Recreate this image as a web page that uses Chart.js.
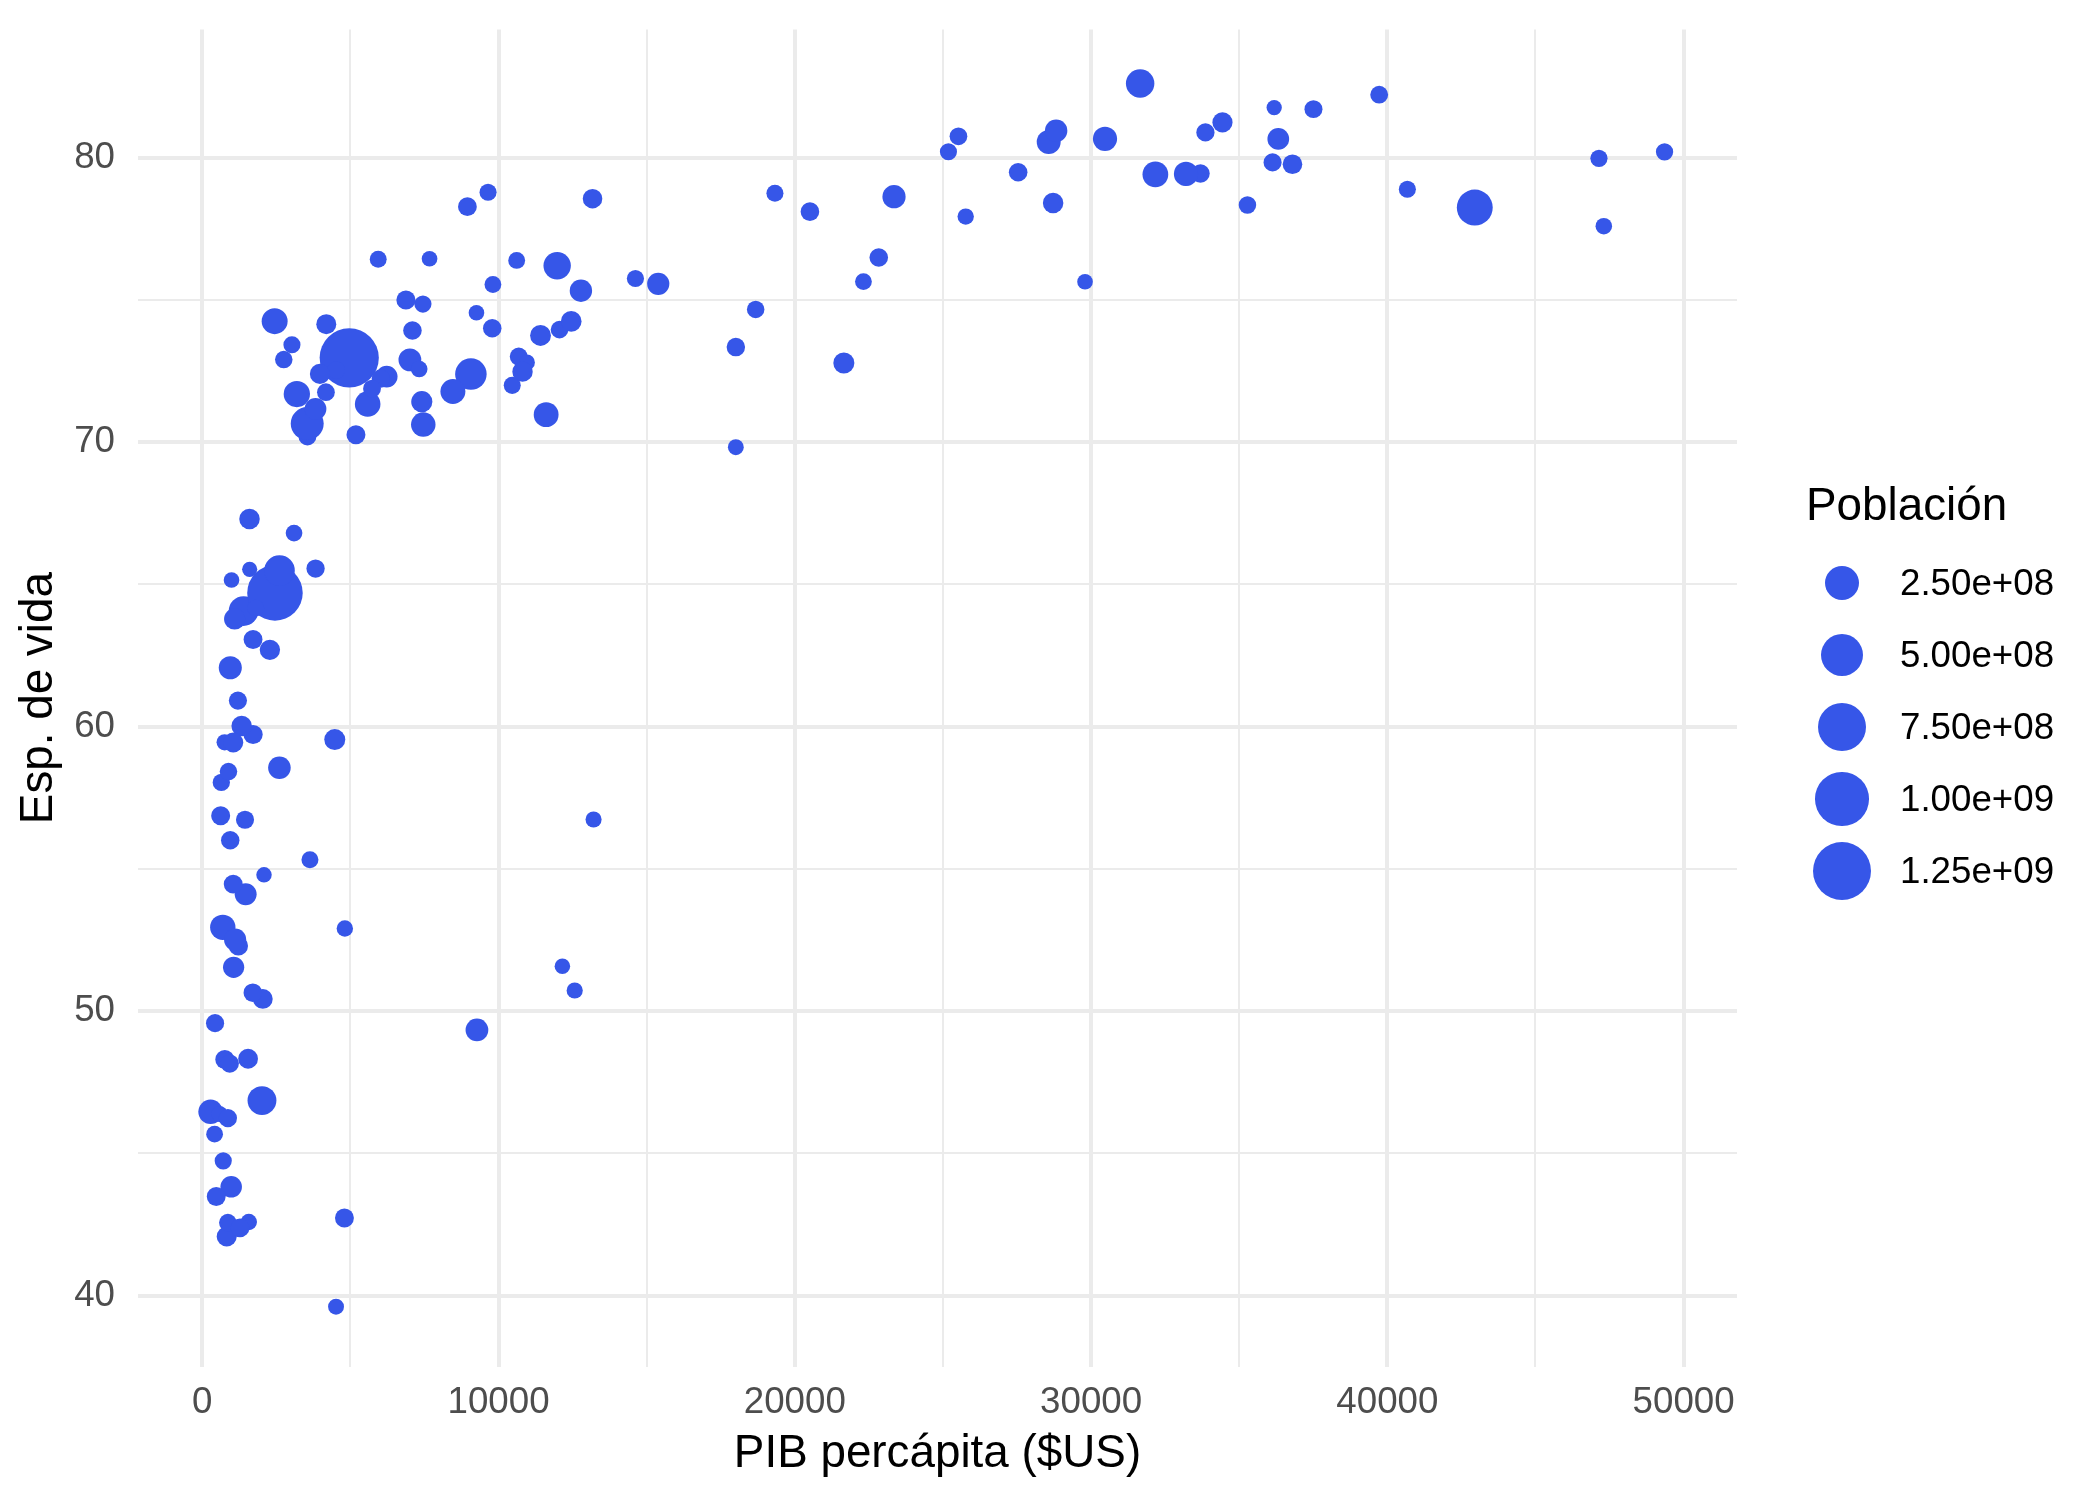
<!DOCTYPE html>
<html><head><meta charset="utf-8">
<script src="https://cdn.jsdelivr.net/npm/chart.js@4"></script>
<style>
html,body{margin:0;padding:0;background:#fff;}
#wrap{position:relative;width:2099px;height:1499px;font-family:"Liberation Sans",Arial,sans-serif;}
canvas{position:absolute;left:0;top:0;}
#leg{position:absolute;left:0;top:0;}
.t{position:absolute;left:1806px;top:477px;font-size:45.8px;line-height:55px;color:#000;white-space:nowrap;}
.dot{position:absolute;border-radius:50%;background:#3656E8;}
.lab{position:absolute;left:1900px;font-size:36.7px;line-height:44px;color:#000;transform:translateY(-50%);white-space:nowrap;}
</style></head>
<body><div id="wrap"><canvas id="c" width="2099" height="1499"></canvas><div id="leg"><div class="t">Población</div></div></div>
<script>
const countries=["Afghanistan","Albania","Algeria","Angola","Argentina","Australia","Austria","Bahrain","Bangladesh","Belgium","Benin","Bolivia","Bosnia and Herzegovina","Botswana","Brazil","Bulgaria","Burkina Faso","Burundi","Cambodia","Cameroon","Canada","Central African Republic","Chad","Chile","China","Colombia","Comoros","Congo, Dem. Rep.","Congo, Rep.","Costa Rica","Cote d'Ivoire","Croatia","Cuba","Czech Republic","Denmark","Djibouti","Dominican Republic","Ecuador","Egypt","El Salvador","Equatorial Guinea","Eritrea","Ethiopia","Finland","France","Gabon","Gambia","Germany","Ghana","Greece","Guatemala","Guinea","Guinea-Bissau","Haiti","Honduras","Hong Kong","Hungary","Iceland","India","Indonesia","Iran","Iraq","Ireland","Israel","Italy","Jamaica","Japan","Jordan","Kenya","Korea, Dem. Rep.","Korea, Rep.","Kuwait","Lebanon","Lesotho","Liberia","Libya","Madagascar","Malawi","Malaysia","Mali","Mauritania","Mauritius","Mexico","Mongolia","Montenegro","Morocco","Mozambique","Myanmar","Namibia","Nepal","Netherlands","New Zealand","Nicaragua","Niger","Nigeria","Norway","Oman","Pakistan","Panama","Paraguay","Peru","Philippines","Poland","Portugal","Puerto Rico","Reunion","Romania","Rwanda","Sao Tome and Principe","Saudi Arabia","Senegal","Serbia","Sierra Leone","Singapore","Slovak Republic","Slovenia","Somalia","South Africa","Spain","Sri Lanka","Sudan","Swaziland","Sweden","Switzerland","Syria","Taiwan","Tanzania","Thailand","Togo","Trinidad and Tobago","Tunisia","Turkey","Uganda","United Kingdom","United States","Uruguay","Venezuela","Vietnam","West Bank and Gaza","Yemen","Zambia","Zimbabwe"];
const gdpPercap=[974.58,5937.03,6223.37,4797.23,12779.38,34435.37,36126.49,29796.05,1391.25,33692.61,1441.28,3822.14,7446.30,12569.85,9065.80,10680.79,1217.03,430.07,1713.78,2042.10,36319.24,706.02,1704.06,13171.64,4959.11,7006.58,986.15,277.55,3632.56,9645.06,1544.75,14619.22,8948.10,22833.31,35278.42,2082.48,6025.37,6873.26,5581.18,5728.35,12154.09,641.37,690.81,33207.08,30470.02,13206.48,752.75,32170.37,1327.61,27538.41,5186.05,942.65,579.23,1201.64,3548.33,39724.98,18008.94,36180.79,2452.21,3540.65,11605.71,4471.06,40676.00,25523.28,28569.72,7320.88,31656.07,4519.46,1463.25,1593.07,23348.14,47306.99,10461.06,1569.33,414.51,12057.50,1044.77,759.35,12451.66,1042.58,1803.15,10956.99,11977.57,3095.77,9253.90,3820.18,823.69,944.00,4811.06,1091.36,36797.93,25185.01,2749.32,619.68,2013.98,49357.19,22316.19,2605.95,9809.19,4172.84,7408.91,3190.48,15389.92,20509.65,19328.71,7670.12,10808.48,863.09,1598.44,21654.83,1712.47,9786.53,862.54,47143.18,18678.31,25768.26,926.14,9269.66,28821.06,3970.10,2602.39,4513.48,33859.75,37506.42,4184.55,28718.28,1107.48,7458.40,882.97,18008.51,7092.92,8458.28,1056.38,33203.26,42951.65,10611.46,11415.81,2441.58,3025.35,2280.77,1271.21,469.71];
const lifeExp=[43.828,76.423,72.301,42.731,75.32,81.235,79.829,75.635,64.062,79.441,56.728,65.554,74.852,50.728,72.39,73.005,52.295,49.58,59.723,50.43,80.653,44.741,50.651,78.553,72.961,72.889,65.152,46.462,55.322,78.782,48.328,75.748,78.273,76.486,78.332,54.791,72.235,74.994,71.338,71.878,51.579,58.04,52.947,79.313,80.657,56.735,59.448,79.406,60.022,79.483,70.259,56.007,46.388,60.916,70.198,82.208,73.338,81.757,64.698,70.65,70.964,59.545,78.885,80.745,80.546,72.567,82.603,72.535,54.11,67.297,78.623,77.588,71.993,42.592,45.678,73.952,59.443,48.303,74.241,54.467,64.164,72.801,76.195,66.803,74.543,71.164,42.082,62.069,52.906,63.785,79.762,80.204,72.899,56.867,46.859,80.196,75.64,65.483,75.537,71.752,71.421,71.688,75.563,78.098,78.746,76.442,72.476,46.242,65.528,72.777,63.062,74.002,42.568,79.972,74.663,77.926,48.159,49.339,80.941,72.396,58.556,39.613,80.884,81.701,74.143,78.4,52.517,70.616,58.42,69.819,73.923,71.777,51.542,79.425,78.242,76.384,73.747,74.249,73.422,62.698,42.384,43.487];
const population=[31889923,3600523,33333216,12420476,40301927,20434176,8199783,708573,150448339,10392226,8078314,9119152,4552198,1639131,190010647,7322858,14326203,8390505,14131858,17696293,33390141,4369038,10238807,16284741,1318683096,44227550,710960,64606759,3800610,4133884,18013409,4493312,11416987,10228744,5468120,496374,9319622,13755680,80264543,6939688,551201,4906585,76511887,5238460,61083916,1454867,1688359,82400996,22873338,10706290,12572928,9947814,1472041,8502814,7483763,6980412,9956108,301931,1110396331,223547000,69453570,27499638,4109086,6426679,58147733,2780132,127467972,6053193,35610177,23301725,49044790,2505559,3921278,2012649,3193942,6036914,19167654,13327079,24821286,12031795,3270065,1250882,108700891,2874127,684736,33757175,19951656,47761980,2055080,28901790,16570613,4115771,5675356,12894865,135031164,4627926,3204897,169270617,3242173,6667147,28674757,91077287,38518241,10642836,3942491,798094,22276056,8860588,199579,27601038,12267493,10150265,6144562,4553009,5447502,2009245,9118773,43997828,40448191,20378239,42292929,1133066,9031088,7554661,19314747,23174294,38139640,65068149,5701579,1056608,10276158,71158647,29170398,60776238,301139947,3447496,26084662,85262356,4018332,22211743,11746035,12311143];
const xTicks=[0,10000,20000,30000,40000,50000];
const xGrid=[0,5000,10000,15000,20000,25000,30000,35000,40000,45000,50000];
const yTicks=[40,50,60,70,80];
const yGrid=[40,45,50,55,60,65,70,75,80];
const legendBreaks=[2.5e8,5e8,7.5e8,1e9,1.25e9];
const legendLabels=["2.50e+08","5.00e+08","7.50e+08","1.00e+09","1.25e+09"];

const COL='#3656E8';
const rad=p=>7.3+6.14e-4*Math.sqrt(p);
const pts=gdpPercap.map((g,i)=>({x:g,y:lifeExp[i],r:rad(population[i])}));
const F='Liberation Sans';

new Chart(document.getElementById('c'),{
 type:'bubble',
 data:{datasets:[{data:pts,backgroundColor:COL,borderColor:COL,borderWidth:0,hoverRadius:0}]},
 options:{responsive:false,animation:false,devicePixelRatio:1,
  layout:{padding:{left:0,top:22,right:362,bottom:0}},
  plugins:{legend:{display:false},tooltip:{enabled:false}},
  scales:{
   x:{type:'linear',min:-2171,max:51803,
     ticks:{color:'#4D4D4D',font:{size:36.7,family:F},padding:14,autoSkip:false,maxRotation:0,
       callback:v=>xTicks.includes(v)?String(v):''},
     afterBuildTicks:s=>{s.ticks=xGrid.map(v=>({value:v}));},
     afterFit:s=>{s.height=132.3;s.paddingLeft=0;s.paddingRight=0;},
     grid:{drawTicks:false,color:'#EBEBEB',lineWidth:c=>(c.tick&&xTicks.includes(c.tick.value))?4:2},
     border:{display:false},
     title:{display:true,text:'PIB percápita ($US)',color:'#000',font:{size:45.8,family:F},padding:{top:0,bottom:17}}},
   y:{type:'linear',min:37.506,max:84.496,
     ticks:{color:'#4D4D4D',font:{size:36.7,family:F,lineHeight:0.5},padding:23,autoSkip:false,
       callback:v=>yTicks.includes(v)?String(v):''},
     afterBuildTicks:s=>{s.ticks=yGrid.map(v=>({value:v}));},
     afterFit:s=>{s.width=138;s.paddingTop=0;s.paddingBottom=0;},
     grid:{drawTicks:false,color:'#EBEBEB',lineWidth:c=>(c.tick&&yTicks.includes(c.tick.value))?4:2},
     border:{display:false},
     title:{display:true,text:'Esp. de vida',color:'#000',font:{size:45.8,family:F},padding:{top:12,bottom:0}}}
  }}
});
const leg=document.getElementById('leg');
const cys=[583,655,727,799,871];
legendBreaks.forEach((b,i)=>{
 const r=rad(b);const cy=cys[i];
 const d=document.createElement('div');d.className='dot';
 d.style.width=d.style.height=(2*r)+'px';d.style.left=(1842-r)+'px';d.style.top=(cy-r)+'px';
 leg.appendChild(d);
 const l=document.createElement('div');l.className='lab';l.textContent=legendLabels[i];
 l.style.top=cy+'px';leg.appendChild(l);
});
</script></body></html>
